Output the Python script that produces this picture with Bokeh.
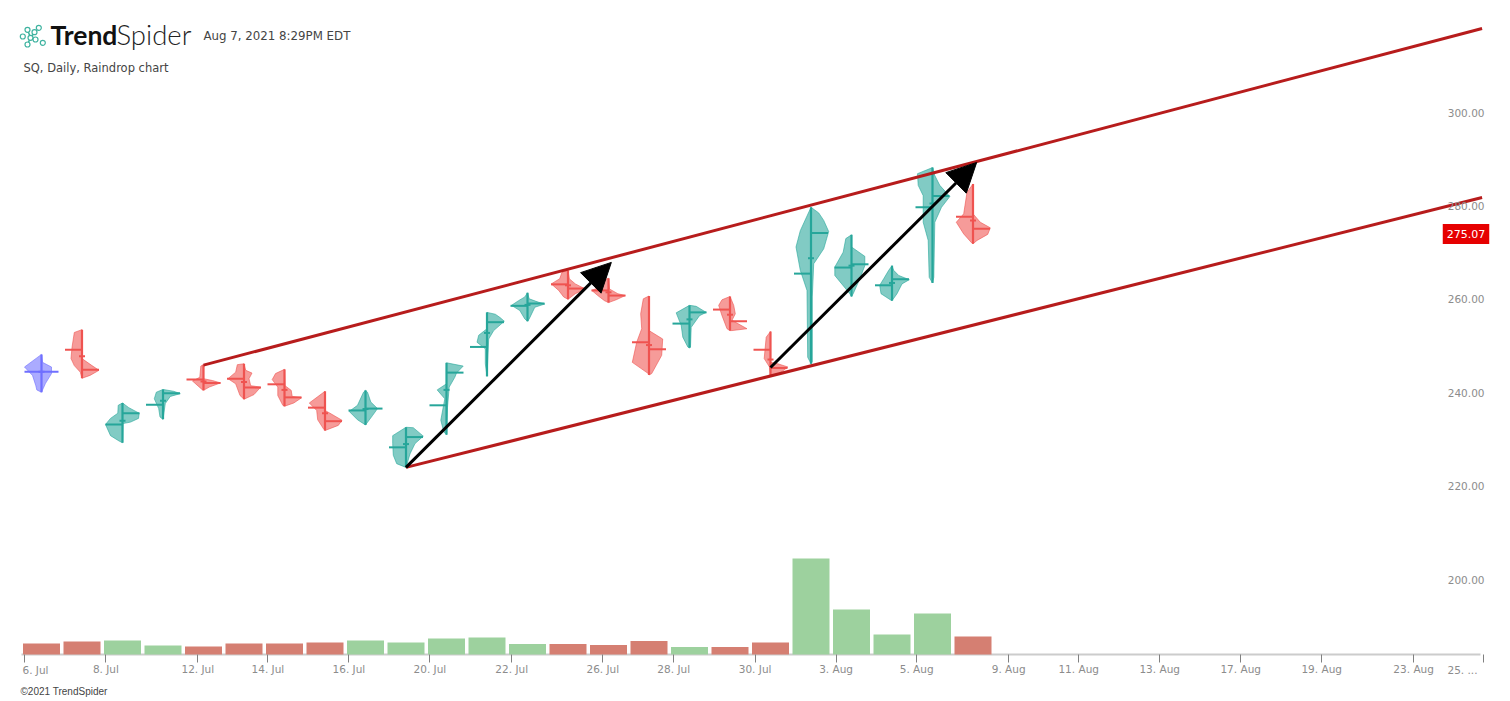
from bokeh.embed import file_html
from bokeh.models import (Arrow, FixedTicker, Label, LinearAxis, NormalHead,
                          NumeralTickFormatter, Range1d)
from bokeh.plotting import figure
from bokeh.resources import INLINE

# ---------- data ----------
highs = [248.2, 253.5, 237.8, 240.7, 246.0, 246.2, 245.0, 240.3, 240.5, 232.6, 246.4, 257.2,
         261.4, 266.2, 264.5, 260.7, 258.7, 260.6, 253.1, 279.7, 273.8, 267.2, 288.2, 284.7]
lows = [240.1, 243.1, 229.3, 234.3, 240.5, 238.6, 237.1, 231.9, 233.1, 224.0, 231.0, 243.5,
        255.3, 260.0, 259.3, 243.8, 249.6, 253.3, 243.5, 246.2, 260.6, 259.7, 263.5, 271.9]
opens = [244.5, 249.2, 233.2, 237.4, 242.8, 243.0, 241.8, 236.8, 236.2, 228.3, 237.3, 249.8,
         258.6, 263.2, 261.9, 250.8, 254.8, 257.8, 249.2, 265.5, 266.8, 263.0, 279.7, 277.7]
closes = [244.5, 244.9, 235.6, 239.9, 242.1, 241.1, 239.0, 233.9, 236.6, 230.5, 244.3, 255.1,
          259.1, 262.3, 260.8, 249.3, 257.2, 255.3, 245.3, 274.2, 267.5, 264.3, 282.1, 275.1]
vwaps = [244.5, 247.8, 234.0, 238.3, 242.4, 242.3, 240.6, 235.6, 236.5, 229.0, 240.6, 252.8,
         258.8, 263.0, 261.5, 250.2, 255.7, 256.7, 247.1, 268.8, 267.2, 263.5, 280.5, 276.9]
volumes = [2.75, 3.25, 3.5, 2.25, 2.0, 2.75, 2.75, 3.0, 3.5, 3.0, 4.0, 4.25,
           2.6, 2.6, 2.4, 3.4, 1.9, 1.9, 3.0, 24.0, 11.25, 5.0, 10.25, 4.5]

# volume-at-price profile of each raindrop: prices and relative widths per half
left_prices = [
    [245.5, 243.7, 241.5, 240.6], [252.9, 249.7, 247.3, 245.8, 244.4],
    [237.3, 235.6, 234.5, 233.2, 230.8, 229.6], [240.1, 238.7, 236.6, 234.8],
    [245.7, 243.3, 242.5, 240.6], [246.0, 244.4, 243.0, 241.9, 239.4],
    [244.1, 242.8, 241.2, 239.4, 237.3], [237.8, 236.2, 234.2, 232.1],
    [240.1, 237.3, 236.0, 234.2], [230.8, 229.1, 226.6, 224.8],
    [241.9, 240.6, 238.7, 234.1, 231.6], [253.7, 252.3, 250.8, 249.4, 246.2],
    [260.5, 259.7, 258.7, 257.6, 255.8], [265.8, 264.4, 263.3, 261.9, 260.5],
    [264.0, 262.6, 261.9, 260.8, 259.7], [260.1, 256.9, 253.7, 250.8, 246.5, 244.1],
    [257.1, 254.4, 251.9, 249.8], [259.9, 258.7, 256.5, 253.7],
    [251.9, 247.3, 245.5], [274.7, 271.2, 266.2, 261.9, 247.6],
    [273.0, 270.1, 266.9, 265.1, 261.2], [266.2, 264.4, 263.0, 261.2, 259.9],
    [286.9, 284.4, 282.2, 276.5, 272.6, 264.7], [282.9, 278.3, 276.5, 274.0, 272.0],
]
left_widths = [
    [17, 9, 5.7, 4.7], [7.7, 10, 11, 7.7, 1.7],
    [4.3, 4.7, 12, 17, 12, 3], [6.7, 8.7, 4.3, 3],
    [2.7, 3.7, 11, 1], [6.7, 8.3, 16, 8.3, 4],
    [9, 12.3, 6.7, 6.7, 1.7], [15.7, 8.3, 7.3, 1],
    [2, 8, 16.3, 8], [13.3, 13.3, 12.7, 9.3],
    [0, 9.3, 1.7, 5.7, 2.7], [0, 8.3, 10, 1.7, 1.7],
    [2.7, 9, 16, 7.7, 2.7], [6, 8.3, 16.7, 9.3, 4.3],
    [5.7, 9, 16.7, 10.7, 4], [5.7, 8.3, 7.3, 12.3, 16.7, 0.7],
    [13.3, 8.3, 6.7, 1.7], [8, 11.3, 8, 3],
    [4.3, 6.3, 1], [10.7, 15, 10.7, 4, 3.3],
    [5.7, 8.3, 16.7, 16.7, 1.7], [3.3, 8.3, 12.3, 11, 1.7],
    [15, 14.3, 9.3, 9.3, 4.3, 3.3], [6, 9.3, 16.7, 9.3, 1],
]
right_prices = [
    [246.5, 245.5, 244.1, 242.0], [247.3, 245.8, 244.8, 243.7],
    [236.8, 235.6, 234.5, 233.7, 233.4], [240.3, 239.8, 239.2, 237.7],
    [243.0, 242.6, 242.1, 241.2], [244.8, 244.2, 243.0, 241.5, 241.2, 239.6],
    [241.5, 240.5, 239.2, 238.9, 237.8], [236.2, 235.6, 234.1, 233.0],
    [240.1, 238.0, 236.6, 235.1], [232.5, 230.7, 229.1, 226.9],
    [245.7, 244.2, 243.3, 241.2, 236.9], [256.8, 256.1, 255.3, 253.3, 251.5],
    [260.1, 259.4, 259.0, 258.3, 255.8], [264.4, 263.3, 262.2, 261.2],
    [262.2, 261.2, 260.8, 259.9], [253.3, 251.5, 248.0, 244.1],
    [258.5, 257.2, 256.5, 254.0, 249.8], [258.7, 256.9, 255.5, 253.7, 253.3],
    [246.5, 246.2, 245.5, 244.1], [278.5, 276.9, 274.5, 270.8, 267.6, 260.5, 246.6],
    [271.2, 269.2, 267.2, 264.4, 261.2], [266.2, 265.1, 264.2, 263.3, 261.2],
    [286.5, 284.4, 282.0, 279.7, 276.5, 264.7], [278.3, 276.5, 275.3, 273.9, 272.6],
]
right_widths = [
    [1, 10, 10, 4], [0, 10, 17, 8],
    [6.3, 16.7, 16, 8, 0.5], [10.7, 17.3, 7.3, 2.3],
    [0, 9, 17, 5.7], [1.7, 8, 5, 6.7, 16.7, 10],
    [0.5, 6.7, 7.7, 17, 9.3], [0, 5, 17, 13.3],
    [2, 5.3, 12, 7], [7.3, 17.3, 9, 4],
    [16.7, 10, 8.3, 2.7, 1], [8.3, 13, 17.3, 6.7, 1.7],
    [1.7, 10.7, 17.3, 7.3, 1.7], [1.3, 7.3, 17.3, 7.3],
    [1, 9.3, 16.7, 7.7], [0, 13.7, 12.7, 2.7],
    [6.7, 16.7, 10, 1.7, 1], [3.7, 5.3, 2, 17, 2],
    [0, 7.3, 17.3, 9], [7.7, 12.7, 17.7, 12.7, 2.7, 1.3, 1.3],
    [0, 13.3, 13.3, 8.3, 1.7], [1.7, 6.7, 17.3, 10, 5],
    [2.3, 7.3, 17.3, 9, 2.3, 1.3], [0, 7.3, 17.3, 14.7, 4],
]

channel_slots = [[4, 35.57], [9, 35.57]]
channel_prices = [[245.9, 318.0], [224.0, 281.8]]
arrow_slots = [[9, 14.07], [18, 23.09]]
arrow_prices = [[224.0, 267.9], [245.4, 289.3]]

tick_slots = [-0.42, 1.59, 3.86, 5.59, 7.59, 9.59, 11.61, 13.86, 15.61, 17.62, 19.62, 21.61,
              23.88, 25.61, 27.61, 29.61, 31.61, 33.88, 35.61]
tick_labels = ["6. Jul", "8. Jul", "12. Jul", "14. Jul", "16. Jul", "20. Jul", "22. Jul",
               "26. Jul", "28. Jul", "30. Jul", "3. Aug", "5. Aug", "9. Aug", "11. Aug",
               "13. Aug", "17. Aug", "19. Aug", "23. Aug", "25. ..."]
price_ticks = [200, 220, 240, 260, 280, 300]
last_price = 275.07

# ---------- layout: page pixels <-> chart units ----------
W, H = 1494, 699
PAD = 0
SLOT_PX, SLOT0_PX = 40.5, 41.0
PRICE_PX, P300_PX = 4.67, 112.0
VOL_PX, VOL0_PX = 4.0, 654.0


def sx(px):
    return (px - SLOT0_PX) / SLOT_PX


def py(px):
    return 300 - (px - P300_PX) / PRICE_PX


GREEN, RED, BLUE = "#26a69a", "#ef5350", "#6f6fff"
GREY = "#8c8c8c"
FONT = "DejaVu Sans"
WIDTH_UNIT = 1 / SLOT_PX

p = figure(width=W, height=H, output_backend="svg", toolbar_location=None,
           x_axis_type=None, y_axis_type=None, min_border=0, outline_line_color=None,
           x_range=Range1d(sx(PAD), sx(PAD + W)), y_range=Range1d(py(PAD + H), py(PAD)))
p.grid.visible = False
p.extra_y_ranges["vol"] = Range1d((VOL0_PX - PAD - H) / VOL_PX, (VOL0_PX - PAD) / VOL_PX)

n = len(highs)
slots = list(range(n))

# volume bars and axis line
p.segment([sx(21)], [0], [sx(1480)], [0], line_color="#cccccc", line_width=2, y_range_name="vol")
p.vbar(x=slots, top=volumes, bottom=0, width=37 / SLOT_PX, y_range_name="vol", line_color=None,
       fill_color=["#9dd19e" if c > o else "#d57f72" for o, c in zip(opens, closes)])

# raindrops
colors = [GREEN if c > o else RED if c < o else BLUE for o, c in zip(opens, closes)]
for i in slots:
    xs = [i] + [i - w * WIDTH_UNIT for w in left_widths[i]] + [i] \
        + [i + w * WIDTH_UNIT for w in reversed(right_widths[i])]
    ys = [highs[i]] + left_prices[i] + [lows[i]] + list(reversed(right_prices[i]))
    p.patch(xs, ys, fill_color=colors[i], fill_alpha=0.58, line_color=colors[i], line_alpha=0.6,
            line_width=1)
p.segment(slots, highs, slots, lows, line_color=colors, line_width=2.2)
p.segment([i - 17 * WIDTH_UNIT for i in slots], opens, slots, opens, line_color=colors, line_width=2)
p.segment(slots, closes, [i + 17 * WIDTH_UNIT for i in slots], closes, line_color=colors, line_width=2)
p.segment([i - 3 * WIDTH_UNIT for i in slots], vwaps, [i + 3 * WIDTH_UNIT for i in slots], vwaps,
          line_color=colors, line_width=2)

# channel and arrows
p.multi_line(channel_slots, channel_prices, line_color="#b71c1c", line_width=3)
for xa, ya in zip(arrow_slots, arrow_prices):
    p.add_layout(Arrow(end=NormalHead(size=29, fill_color="black", line_color="black"),
                       x_start=xa[0], y_start=ya[0], x_end=xa[1], y_end=ya[1],
                       line_color="black", line_width=3))

# axes
xax = LinearAxis(fixed_location=0, y_range_name="vol",
                 ticker=FixedTicker(ticks=tick_slots),
                 major_label_overrides={t: ("" if j in (0, len(tick_slots) - 1) else tick_labels[j])
                                        for j, t in enumerate(tick_slots)},
                 axis_line_color=None, major_tick_line_color="#808080", major_tick_line_width=1,
                 major_tick_in=0, major_tick_out=8, minor_tick_line_color=None,
                 major_label_text_color=GREY, major_label_text_font=FONT,
                 major_label_text_font_size="10.5px", major_label_standoff=0)
p.add_layout(xax, "below")
yax = LinearAxis(fixed_location=sx(1484), ticker=FixedTicker(ticks=price_ticks),
                 axis_line_color=None, major_tick_line_color=None, minor_tick_line_color=None,
                 major_tick_in=0, major_tick_out=0,
                 major_label_text_color=GREY, major_label_text_font=FONT,
                 major_label_text_font_size="10.5px", major_label_standoff=0,
                 formatter=NumeralTickFormatter(format="0.00"))
p.add_layout(yax, "left")

for lab, cx in ((tick_labels[0], 35), (tick_labels[-1], 1462)):
    p.add_layout(Label(x=sx(cx), y=py(669), text=lab, text_align="center", text_baseline="middle",
                       text_color=GREY, text_font=FONT, text_font_size="10.5px"))

# last-price tag
p.add_layout(Label(x=sx(1465.5), y=last_price, y_offset=-5, text=f"{last_price:.2f}",
                   text_align="center", text_baseline="middle", text_color="white", text_font=FONT,
                   text_font_size="11px", background_fill_color="#e60000",
                   padding=(4, 6)))

# header texts
p.add_layout(Label(x=sx(50), y=py(34), text="Trend", text_font="Lato", text_font_style="bold",
                   text_font_size="26.5px", text_color="#111111", text_baseline="middle"))
p.add_layout(Label(x=sx(116), y=py(34), text="Spider", text_font="Lato Light",
                   text_font_size="27.5px", text_color="#222222", text_baseline="middle"))
p.add_layout(Label(x=sx(203), y=py(35), text="Aug 7, 2021 8:29PM EDT", text_font=FONT,
                   text_font_size="11.8px", text_color="#444444", text_baseline="middle"))
p.add_layout(Label(x=sx(23), y=py(67.5), text="SQ, Daily, Raindrop chart", text_font=FONT,
                   text_font_size="11.5px", text_color="#444444", text_baseline="middle"))
p.add_layout(Label(x=sx(20), y=py(691), text="©2021 TrendSpider", text_font="Liberation Sans",
                   text_font_size="10px", text_color="#444444", text_baseline="middle"))

# logo
logo_x = [22.3, 27, 34, 38.3, 30, 35, 42.3, 27]
logo_y = [36, 29.3, 31.7, 27.3, 37.3, 39, 42.3, 44]
logo_links = [(1, 4), (4, 7), (4, 2)]
p.multi_line([[sx(logo_x[a]), sx(logo_x[b])] for a, b in logo_links],
             [[py(logo_y[a]), py(logo_y[b])] for a, b in logo_links],
             line_color="#36b19b", line_width=1.5)
p.scatter([sx(v) for v in logo_x], [py(v) for v in logo_y], size=5, marker="circle",
          fill_color="white", line_color="#3fb3a0", line_width=1.2)

open("out.html", "w").write(file_html(p, INLINE))
